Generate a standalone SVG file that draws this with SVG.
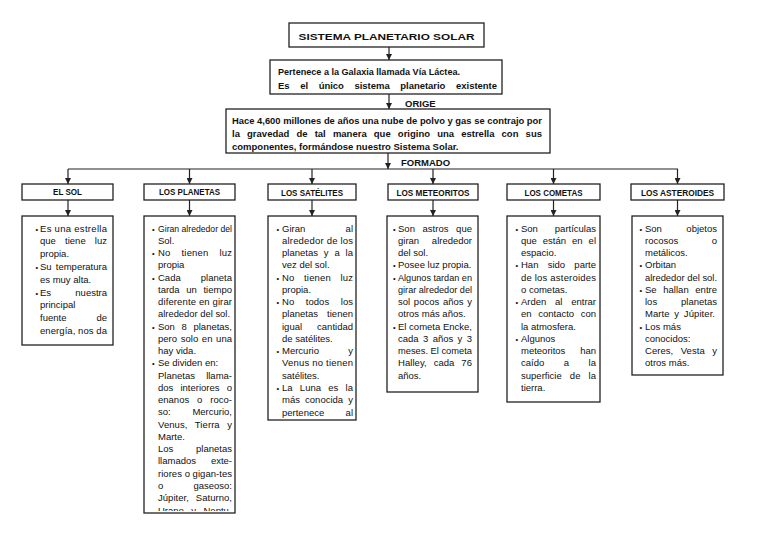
<svg xmlns="http://www.w3.org/2000/svg" width="768" height="543" viewBox="0 0 768 543">
<style>
.t{font-family:"Liberation Sans",Arial,sans-serif;font-size:9.5px;fill:#111}
.h{font-family:"Liberation Sans",Arial,sans-serif;font-size:8.5px;font-weight:bold;fill:#111;text-anchor:middle}
.k{font-weight:bold}
.bu{font-size:7.5px}
.e{text-anchor:end}
.box{fill:#fff;stroke:#222;stroke-width:1.3}
.ln{stroke:#222;stroke-width:1.2;fill:none}
</style>
<defs>
<marker id="ah" viewBox="0 0 6 6" refX="6" refY="3" markerWidth="6" markerHeight="6" markerUnits="userSpaceOnUse" orient="auto"><path d="M0,0 L6,3 L0,6 z" fill="#222"/></marker>
<clipPath id="cpPl"><rect x="144" y="216" width="91" height="295"/></clipPath>
<clipPath id="cpSa"><rect x="268" y="216" width="88" height="202"/></clipPath>
</defs>
<rect width="768" height="543" fill="#fff"/>
<g id="connectors">
<line class="ln" x1="389" y1="47" x2="389" y2="60" marker-end="url(#ah)"/>
<line class="ln" x1="389" y1="94" x2="389" y2="109" marker-end="url(#ah)"/>
<line class="ln" x1="388" y1="153" x2="388" y2="169" marker-end="url(#ah)"/>
<line class="ln" x1="68" y1="169" x2="678" y2="169"/>
<line class="ln" x1="68" y1="169" x2="68" y2="184" marker-end="url(#ah)"/>
<line class="ln" x1="189.5" y1="169" x2="189.5" y2="184" marker-end="url(#ah)"/>
<line class="ln" x1="312" y1="169" x2="312" y2="184" marker-end="url(#ah)"/>
<line class="ln" x1="433" y1="169" x2="433" y2="184" marker-end="url(#ah)"/>
<line class="ln" x1="553.5" y1="169" x2="553.5" y2="184" marker-end="url(#ah)"/>
<line class="ln" x1="677.5" y1="169" x2="677.5" y2="184" marker-end="url(#ah)"/>
<line class="ln" x1="68" y1="200" x2="68" y2="216" marker-end="url(#ah)"/>
<line class="ln" x1="189.5" y1="200" x2="189.5" y2="216" marker-end="url(#ah)"/>
<line class="ln" x1="312" y1="200" x2="312" y2="216" marker-end="url(#ah)"/>
<line class="ln" x1="433" y1="200" x2="433" y2="216" marker-end="url(#ah)"/>
<line class="ln" x1="553.5" y1="200" x2="553.5" y2="216" marker-end="url(#ah)"/>
<line class="ln" x1="677.5" y1="200" x2="677.5" y2="216" marker-end="url(#ah)"/>
<text class="t k" x="405" y="106.5">ORIGE</text>
<text class="t k" x="401" y="165.5">FORMADO</text>
</g>
<g id="title">
<rect class="box" x="289" y="23" width="195" height="24"/>
<text class="t k" x="386.5" y="40" font-size="13" text-anchor="middle" textLength="176" lengthAdjust="spacingAndGlyphs">SISTEMA PLANETARIO SOLAR</text>
</g>
<g id="galaxia">
<rect class="box" x="270" y="60" width="232" height="34"/>
<text class="t k" x="278" y="75" textLength="182" lengthAdjust="spacingAndGlyphs">Pertenece a la Galaxia llamada  Vía Láctea.</text>
<text class="t k" x="278" y="88.5" word-spacing="8" textLength="219" lengthAdjust="spacing">Es el único sistema planetario existente</text>
</g>
<g id="origen">
<rect class="box" x="226" y="109" width="324" height="44"/>
<text class="t k" x="232" y="124" textLength="310" lengthAdjust="spacingAndGlyphs">Hace 4,600 millones de años una nube de polvo y gas se contrajo por</text>
<text class="t k" x="232" y="137" word-spacing="4.5" textLength="310" lengthAdjust="spacing">la gravedad de tal manera que origino una estrella con sus</text>
<text class="t k" x="232" y="150">componentes, formándose nuestro Sistema Solar.</text>
</g>
<g id="h-sol"><rect class="box" x="22" y="184" width="91" height="16"/><text class="h" x="67.5" y="195" textLength="29" lengthAdjust="spacingAndGlyphs">EL SOL</text></g>
<g id="h-planetas"><rect class="box" x="144" y="184" width="91" height="16"/><text class="h" x="189.5" y="195" textLength="61" lengthAdjust="spacingAndGlyphs">LOS PLANETAS</text></g>
<g id="h-satelites"><rect class="box" x="268" y="184" width="88" height="16"/><text class="h" x="312" y="195.5" textLength="62" lengthAdjust="spacingAndGlyphs">LOS SATÉLITES</text></g>
<g id="h-meteoritos"><rect class="box" x="388" y="184" width="90" height="16"/><text class="h" x="433" y="195.5" textLength="73" lengthAdjust="spacingAndGlyphs">LOS METEORITOS</text></g>
<g id="h-cometas"><rect class="box" x="507" y="184" width="93" height="16"/><text class="h" x="553.5" y="195.5" textLength="58" lengthAdjust="spacingAndGlyphs">LOS COMETAS</text></g>
<g id="h-asteroides"><rect class="box" x="631" y="184" width="93" height="16"/><text class="h" x="677.5" y="195.5" textLength="73" lengthAdjust="spacingAndGlyphs">LOS ASTEROIDES</text></g>

<g id="c-sol">
<rect class="box" x="22" y="216" width="91" height="129"/>
<g class="t">
<text class="bu" x="35.5" y="231.5">•</text><text x="40" y="231.5" textLength="67" lengthAdjust="spacing">Es una estrella</text>
<text x="40" y="244.3" word-spacing="6.5" textLength="67" lengthAdjust="spacing">que tiene luz</text>
<text x="40" y="257.1">propia.</text>
<text class="bu" x="35.5" y="269.9">•</text><text x="40" y="269.9">Su</text><text class="e" x="107" y="269.9">temperatura</text>
<text x="40" y="282.7">es muy alta.</text>
<text class="bu" x="35.5" y="295.5">•</text><text x="40" y="295.5">Es</text><text class="e" x="107" y="295.5">nuestra</text>
<text x="40" y="308.3">principal</text>
<text x="40" y="321.1">fuente</text><text class="e" x="107" y="321.1">de</text>
<text x="40" y="333.9" textLength="67" lengthAdjust="spacing">energía, nos da</text>
</g>
</g>

<g id="c-planetas">
<rect class="box" x="144" y="216" width="91" height="297"/>
<g class="t" clip-path="url(#cpPl)">
<text class="bu" x="152" y="231.5">•</text><text x="158" y="231.5" textLength="74" lengthAdjust="spacingAndGlyphs">Giran alrededor del</text>
<text x="158" y="243.8">Sol.</text>
<text class="bu" x="152" y="256">•</text><text x="158" y="256" word-spacing="8.3" textLength="74" lengthAdjust="spacing">No tienen luz</text>
<text x="158" y="268.3">propia</text>
<text class="bu" x="152" y="280.5">•</text><text x="158" y="280.5">Cada</text><text class="e" x="232" y="280.5">planeta</text>
<text x="158" y="292.8" word-spacing="4" textLength="74" lengthAdjust="spacing">tarda un tiempo</text>
<text x="158" y="305.1" textLength="74" lengthAdjust="spacing">diferente en girar</text>
<text x="158" y="317.3" textLength="72" lengthAdjust="spacingAndGlyphs">alrededor del sol.</text>
<text class="bu" x="152" y="329.6">•</text><text x="158" y="329.6" word-spacing="4" textLength="74" lengthAdjust="spacing">Son 8 planetas,</text>
<text x="158" y="341.8" word-spacing="1" textLength="74" lengthAdjust="spacing">pero solo en una</text>
<text x="158" y="354.1">hay vida.</text>
<text class="bu" x="152" y="366.4">•</text><text x="158" y="366.4">Se dividen en:</text>
<text x="158" y="378.6">Planetas</text><text class="e" x="232" y="378.6">llama-</text>
<text x="158" y="390.9" word-spacing="4.5" textLength="74" lengthAdjust="spacing">dos interiores o</text>
<text x="158" y="403.1" word-spacing="5.3" textLength="74" lengthAdjust="spacing">enanos o roco-</text>
<text x="158" y="415.4">so:</text><text class="e" x="232" y="415.4">Mercurio,</text>
<text x="158" y="427.7" word-spacing="4.8" textLength="74" lengthAdjust="spacing">Venus, Tierra y</text>
<text x="158" y="439.9">Marte.</text>
<text x="158" y="452.2">Los</text><text class="e" x="232" y="452.2">planetas</text>
<text x="158" y="464.4">llamados</text><text class="e" x="232" y="464.4">exte-</text>
<text x="158" y="476.7" textLength="74" lengthAdjust="spacing">riores o gigan-tes</text>
<text x="158" y="489">o</text><text class="e" x="232" y="489">gaseoso:</text>
<text x="158" y="501.2" word-spacing="4.3" textLength="74" lengthAdjust="spacing">Júpiter, Saturno,</text>
<text x="158" y="514" word-spacing="4.8" textLength="74" lengthAdjust="spacing">Urano y Neptu-</text>
</g>
</g>

<g id="c-satelites">
<rect class="box" x="268" y="216" width="88" height="204"/>
<g class="t" clip-path="url(#cpSa)">
<text class="bu" x="276.5" y="231.5">•</text><text x="282" y="231.5">Giran</text><text class="e" x="353" y="231.5">al</text>
<text x="282" y="243.8" textLength="71" lengthAdjust="spacing">alrededor de los</text>
<text x="282" y="256" word-spacing="3.2" textLength="71" lengthAdjust="spacing">planetas y a la</text>
<text x="282" y="268.3">vez del sol.</text>
<text class="bu" x="276.5" y="280.5">•</text><text x="282" y="280.5" word-spacing="6.8" textLength="71" lengthAdjust="spacing">No tienen luz</text>
<text x="282" y="292.8">propia.</text>
<text class="bu" x="276.5" y="305.1">•</text><text x="282" y="305.1" word-spacing="9" textLength="71" lengthAdjust="spacing">No todos los</text>
<text x="282" y="317.3">planetas</text><text class="e" x="353" y="317.3">tienen</text>
<text x="282" y="329.6">igual</text><text class="e" x="353" y="329.6">cantidad</text>
<text x="282" y="341.8">de satélites.</text>
<text class="bu" x="276.5" y="354.1">•</text><text x="282" y="354.1">Mercurio</text><text class="e" x="353" y="354.1">y</text>
<text x="282" y="366.4" textLength="71" lengthAdjust="spacing">Venus no tienen</text>
<text x="282" y="378.6">satélites.</text>
<text class="bu" x="276.5" y="390.9">•</text><text x="282" y="390.9" word-spacing="4.7" textLength="71" lengthAdjust="spacing">La Luna es la</text>
<text x="282" y="403.1" word-spacing="2.5" textLength="71" lengthAdjust="spacing">más conocida y</text>
<text x="282" y="416">pertenece</text><text class="e" x="353" y="416">al</text>
</g>
</g>

<g id="c-meteoritos">
<rect class="box" x="387" y="216" width="91" height="176"/>
<g class="t">
<text class="bu" x="393" y="231.5">•</text><text x="398" y="231.5" word-spacing="5" textLength="74" lengthAdjust="spacing">Son astros que</text>
<text x="398" y="243.8">giran</text><text class="e" x="472" y="243.8">alrededor</text>
<text x="398" y="256">del sol.</text>
<text class="bu" x="393" y="268.3">•</text><text x="398" y="268.3">Posee luz propia.</text>
<text class="bu" x="393" y="280.5">•</text><text x="398" y="280.5" textLength="74" lengthAdjust="spacingAndGlyphs">Algunos tardan en</text>
<text x="398" y="292.8" textLength="74" lengthAdjust="spacingAndGlyphs">girar alrededor del</text>
<text x="398" y="305.1" word-spacing="1" textLength="74" lengthAdjust="spacing">sol pocos años y</text>
<text x="398" y="317.3">otros más años.</text>
<text class="bu" x="393" y="329.6">•</text><text x="398" y="329.6" textLength="74" lengthAdjust="spacing">El cometa Encke,</text>
<text x="398" y="341.8" word-spacing="1.7" textLength="74" lengthAdjust="spacing">cada 3 años y 3</text>
<text x="398" y="354.1" textLength="74" lengthAdjust="spacingAndGlyphs">meses. El cometa</text>
<text x="398" y="366.4" word-spacing="4.2" textLength="74" lengthAdjust="spacing">Halley, cada 76</text>
<text x="398" y="378.6">años.</text>
</g>
</g>

<g id="c-cometas">
<rect class="box" x="507" y="216" width="93" height="186"/>
<g class="t">
<text class="bu" x="515.5" y="231.5">•</text><text x="521" y="231.5">Son</text><text class="e" x="596" y="231.5">partículas</text>
<text x="521" y="243.8" word-spacing="3.3" textLength="75" lengthAdjust="spacing">que están en el</text>
<text x="521" y="256">espacio.</text>
<text class="bu" x="515.5" y="268.3">•</text><text x="521" y="268.3" word-spacing="6.6" textLength="75" lengthAdjust="spacing">Han sido parte</text>
<text x="521" y="280.5" textLength="75" lengthAdjust="spacing">de los asteroides</text>
<text x="521" y="292.8">o cometas.</text>
<text class="bu" x="515.5" y="305.1">•</text><text x="521" y="305.1" word-spacing="6.1" textLength="75" lengthAdjust="spacing">Arden al entrar</text>
<text x="521" y="317.3" word-spacing="4" textLength="75" lengthAdjust="spacing">en contacto con</text>
<text x="521" y="329.6">la atmosfera.</text>
<text class="bu" x="515.5" y="341.8">•</text><text x="521" y="341.8">Algunos</text>
<text x="521" y="354.1">meteoritos</text><text class="e" x="596" y="354.1">han</text>
<text x="521" y="366.4">caído</text><text x="563.7" y="366.4">a</text><text class="e" x="596" y="366.4">la</text>
<text x="521" y="378.6" word-spacing="5.5" textLength="75" lengthAdjust="spacing">superficie de la</text>
<text x="521" y="390.9">tierra.</text>
</g>
</g>

<g id="c-asteroides">
<rect class="box" x="632" y="216" width="91" height="159"/>
<g class="t">
<text class="bu" x="639.5" y="231.5">•</text><text x="645" y="231.5">Son</text><text class="e" x="717" y="231.5">objetos</text>
<text x="645" y="243.8">rocosos</text><text class="e" x="717" y="243.8">o</text>
<text x="645" y="256">metálicos.</text>
<text class="bu" x="639.5" y="268.3">•</text><text x="645" y="268.3">Orbitan</text>
<text x="645" y="280.5" textLength="72" lengthAdjust="spacingAndGlyphs">alrededor del sol.</text>
<text class="bu" x="639.5" y="292.8">•</text><text x="645" y="292.8" word-spacing="4" textLength="72" lengthAdjust="spacing">Se hallan entre</text>
<text x="645" y="305.1">los</text><text class="e" x="717" y="305.1">planetas</text>
<text x="645" y="317.3" word-spacing="2" textLength="70" lengthAdjust="spacing">Marte y Júpiter.</text>
<text class="bu" x="639.5" y="329.6">•</text><text x="645" y="329.6">Los más</text>
<text x="645" y="341.8">conocidos:</text>
<text x="645" y="354.1" word-spacing="4.8" textLength="72" lengthAdjust="spacing">Ceres, Vesta y</text>
<text x="645" y="366.4">otros más.</text>
</g>
</g>
</svg>
